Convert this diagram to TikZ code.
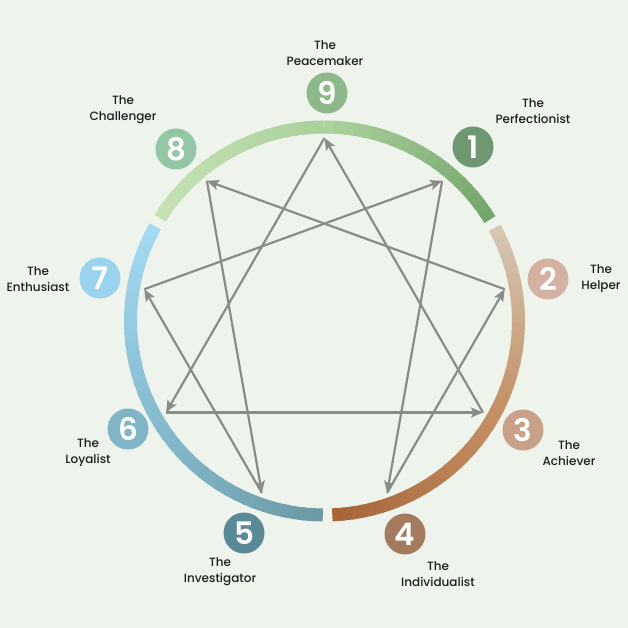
\documentclass[tikz,border=0pt]{standalone}
\usepackage{fontspec}
\setmainfont{Poppins}
\newfontfamily\namefont{Poppins Medium}
\newfontfamily\numfont{Poppins SemiBold}
\usepackage{tikz}
\usetikzlibrary{arrows.meta}

\definecolor{bgpage}{HTML}{EEF4EC}
\definecolor{textdark}{HTML}{1E1E1E}
\definecolor{linegray}{HTML}{8A8C8A}
\definecolor{ringGa}{HTML}{C6E2B5}
\definecolor{ringGb}{HTML}{ABD19C}
\definecolor{ringGc}{HTML}{74A56B}
\definecolor{ringBa}{HTML}{A4D9F3}
\definecolor{ringBb}{HTML}{86BCD0}
\definecolor{ringBc}{HTML}{6B99A4}
\definecolor{ringRa}{HTML}{A7663A}
\definecolor{ringRb}{HTML}{C38E62}
\definecolor{ringRc}{HTML}{D7C6B4}
\definecolor{typeA}{HTML}{6F9872}
\definecolor{typeB}{HTML}{D4B1A2}
\definecolor{typeC}{HTML}{C9A088}
\definecolor{typeD}{HTML}{A57B60}
\definecolor{typeE}{HTML}{5A8A97}
\definecolor{typeF}{HTML}{80B4C7}
\definecolor{typeG}{HTML}{9AD3EE}
\definecolor{typeH}{HTML}{93C6A5}
\definecolor{typeI}{HTML}{8DB98A}

% one piece of the ring, shaded from #3 to #4 between the angles #1 and #2
\newcommand{\ringpart}[4]{%
  \foreach \k in {0,...,19}{
    \pgfmathsetmacro\aa{#1+(#2-#1)*\k/20}
    \pgfmathsetmacro\bb{#1+(#2-#1)*min(\k+1.2,20)/20}
    \pgfmathtruncatemacro\pp{100*\k/19}
    \draw[ring, color=#4!\pp!#3] (\aa:194) arc[start angle=\aa, end angle=\bb, radius=194];
  }}

\begin{document}
\begin{tikzpicture}[x=1pt,y=1pt]

\tikzset{ring/.style={line width=13pt},
  enn/.style={draw=linegray, line width=2.2pt, -{Stealth[length=12pt,width=10pt,inset=2.5pt]}},
  num/.style={
  circle,
  inner sep=0pt,
  minimum size=41pt,
  text=white,
  font=\numfont\fontsize{31}{31}\selectfont
  },
  typename/.style={
  align=center,
  inner sep=0pt,
  text=textdark,
  font=\namefont\fontsize{12}{16}\selectfont
  }}

\fill[bgpage] (-324.5,-307) rectangle (303.5,321);
\useasboundingbox (-324.5,-307) rectangle (303.5,321);

% ring
\ringpart{148}{90}{ringGa}{ringGb}
\ringpart{90}{31.5}{ringGb}{ringGc}
\ringpart{150.8}{210}{ringBa}{ringBb}
\ringpart{210}{269.5}{ringBb}{ringBc}
\ringpart{272.3}{330}{ringRa}{ringRb}
\ringpart{330}{388.7}{ringRb}{ringRc}

\foreach \n/\a in {9/90,1/50,2/10,3/-30,4/-70,5/-110,6/-150,7/170,8/130}
  \coordinate (p\n) at (\a:183);

% lines
\draw[enn] (p1) -- (p4);
\draw[enn] (p4) -- (p2);
\draw[enn] (p2) -- (p8);
\draw[enn] (p8) -- (p5);
\draw[enn] (p5) -- (p7);
\draw[enn] (p7) -- (p1);
\draw[enn] (p9) -- (p6);
\draw[enn] (p6) -- (p3);
\draw[enn] (p3) -- (p9);

% numbers
\node[num, fill=typeI] (n9) at (2.5,228) {9};
\node[num, fill=typeA] (n1) at (148.5,174) {1};
\node[num, fill=typeB] (n2) at (223.5,42) {2};
\node[num, fill=typeC] (n3) at (198.5,-109) {3};
\node[num, fill=typeD] (n4) at (80.5,-213) {4};
\node[num, fill=typeE] (n5) at (-80.5,-212) {5};
\node[num, fill=typeF] (n6) at (-196.5,-108) {6};
\node[num, fill=typeG] (n7) at (-224.5,43) {7};
\node[num, fill=typeH] (n8) at (-148.5,172) {8};

% names
\node[typename] (t9) at (0.5,268) {The\\Peacemaker};
\node[typename] (t1) at (208.5,210) {The\\Perfectionist};
\node[typename] (t2) at (276.5,42) {The\\Helper};
\node[typename] (t3) at (244.5,-132) {The\\Achiever};
\node[typename] (t4) at (113.5,-253) {The\\Individualist};
\node[typename] (t5) at (-104.5,-251) {The\\Investigator};
\node[typename] (t6) at (-236.5,-132) {The\\Loyalist};
\node[typename] (t7) at (-286.5,41.5) {The\\Enthusiast};
\node[typename] (t8) at (-201.5,211) {The\\Challenger};

\end{tikzpicture}
\end{document}
